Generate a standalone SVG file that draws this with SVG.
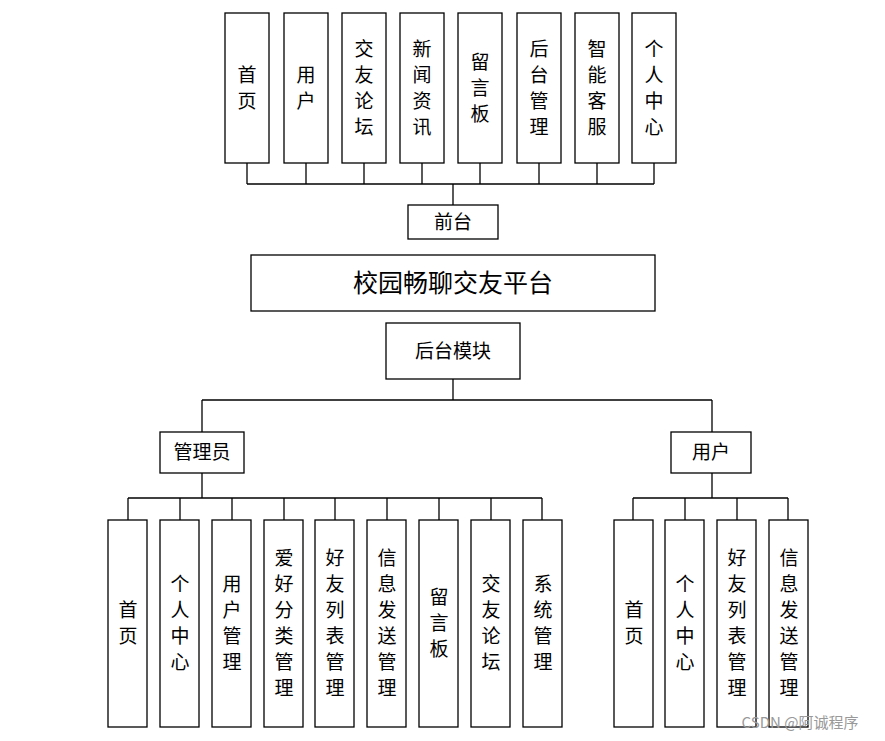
<svg xmlns="http://www.w3.org/2000/svg" width="885" height="741" viewBox="0 0 885 741">
<style>
rect{fill:#fff;stroke:#000;stroke-width:1.3}
text{font-family:"Noto Sans CJK SC",sans-serif;font-size:19px;fill:#000;text-anchor:middle}
.c line,.c polyline{stroke:#000;stroke-width:1.3;fill:none}
</style>
<rect x="0" y="0" width="885" height="741" style="stroke:none"/>
<g class="c">
<line x1="247" y1="184" x2="654" y2="184"/>
<line x1="247" y1="163" x2="247" y2="184"/><line x1="306" y1="163" x2="306" y2="184"/><line x1="364" y1="163" x2="364" y2="184"/><line x1="422" y1="163" x2="422" y2="184"/><line x1="480" y1="163" x2="480" y2="184"/><line x1="539" y1="163" x2="539" y2="184"/><line x1="597" y1="163" x2="597" y2="184"/><line x1="654" y1="163" x2="654" y2="184"/>
<line x1="453" y1="184" x2="453" y2="205"/>
<line x1="453" y1="379" x2="453" y2="400"/>
<line x1="202" y1="400" x2="712" y2="400"/>
<line x1="202" y1="400" x2="202" y2="432"/><line x1="712" y1="400" x2="712" y2="432"/>
<line x1="202" y1="473" x2="202" y2="498"/><line x1="712" y1="473" x2="712" y2="498"/>
<line x1="128" y1="498" x2="542" y2="498"/>
<line x1="128" y1="498" x2="128" y2="520"/><line x1="180" y1="498" x2="180" y2="520"/><line x1="232" y1="498" x2="232" y2="520"/><line x1="284" y1="498" x2="284" y2="520"/><line x1="335" y1="498" x2="335" y2="520"/><line x1="387" y1="498" x2="387" y2="520"/><line x1="439" y1="498" x2="439" y2="520"/><line x1="491" y1="498" x2="491" y2="520"/><line x1="542" y1="498" x2="542" y2="520"/>
<line x1="633" y1="498" x2="788" y2="498"/>
<line x1="633" y1="498" x2="633" y2="520"/><line x1="685" y1="498" x2="685" y2="520"/><line x1="737" y1="498" x2="737" y2="520"/><line x1="788" y1="498" x2="788" y2="520"/>
</g>
<g id="t1"><rect x="225" y="13" width="44" height="150"/><text x="247" y="82">首</text><text x="247" y="108">页</text></g>
<g id="t2"><rect x="284" y="13" width="44" height="150"/><text x="306" y="82">用</text><text x="306" y="108">户</text></g>
<g id="t3"><rect x="342" y="13" width="44" height="150"/><text x="364" y="56">交</text><text x="364" y="82">友</text><text x="364" y="108">论</text><text x="364" y="134">坛</text></g>
<g id="t4"><rect x="400" y="13" width="44" height="150"/><text x="422" y="56">新</text><text x="422" y="82">闻</text><text x="422" y="108">资</text><text x="422" y="134">讯</text></g>
<g id="t5"><rect x="458" y="13" width="44" height="150"/><text x="480" y="69">留</text><text x="480" y="95">言</text><text x="480" y="121">板</text></g>
<g id="t6"><rect x="517" y="13" width="44" height="150"/><text x="539" y="56">后</text><text x="539" y="82">台</text><text x="539" y="108">管</text><text x="539" y="134">理</text></g>
<g id="t7"><rect x="575" y="13" width="44" height="150"/><text x="597" y="56">智</text><text x="597" y="82">能</text><text x="597" y="108">客</text><text x="597" y="134">服</text></g>
<g id="t8"><rect x="632" y="13" width="44" height="150"/><text x="654" y="56">个</text><text x="654" y="82">人</text><text x="654" y="108">中</text><text x="654" y="134">心</text></g>
<g id="qiantai"><rect x="408" y="205" width="90" height="34"/><text x="453" y="229">前台</text></g>
<g id="main"><rect x="251" y="255" width="404" height="56"/><text x="453" y="292" style="font-size:25px">校园畅聊交友平台</text></g>
<g id="houtai"><rect x="386" y="323" width="134" height="56"/><text x="453" y="358">后台模块</text></g>
<g id="admin"><rect x="160" y="432" width="84" height="41"/><text x="202" y="459">管理员</text></g>
<g id="user"><rect x="671" y="432" width="80" height="41"/><text x="711" y="459">用户</text></g>
<g id="a1"><rect x="108" y="520" width="39" height="207"/><text x="128" y="617">首</text><text x="128" y="643">页</text></g>
<g id="a2"><rect x="160" y="520" width="39" height="207"/><text x="180" y="591">个</text><text x="180" y="617">人</text><text x="180" y="643">中</text><text x="180" y="669">心</text></g>
<g id="a3"><rect x="212" y="520" width="39" height="207"/><text x="232" y="591">用</text><text x="232" y="617">户</text><text x="232" y="643">管</text><text x="232" y="669">理</text></g>
<g id="a4"><rect x="264" y="520" width="39" height="207"/><text x="284" y="565">爱</text><text x="284" y="591">好</text><text x="284" y="617">分</text><text x="284" y="643">类</text><text x="284" y="669">管</text><text x="284" y="695">理</text></g>
<g id="a5"><rect x="315" y="520" width="39" height="207"/><text x="335" y="565">好</text><text x="335" y="591">友</text><text x="335" y="617">列</text><text x="335" y="643">表</text><text x="335" y="669">管</text><text x="335" y="695">理</text></g>
<g id="a6"><rect x="367" y="520" width="39" height="207"/><text x="387" y="565">信</text><text x="387" y="591">息</text><text x="387" y="617">发</text><text x="387" y="643">送</text><text x="387" y="669">管</text><text x="387" y="695">理</text></g>
<g id="a7"><rect x="419" y="520" width="39" height="207"/><text x="439" y="604">留</text><text x="439" y="630">言</text><text x="439" y="656">板</text></g>
<g id="a8"><rect x="471" y="520" width="39" height="207"/><text x="491" y="591">交</text><text x="491" y="617">友</text><text x="491" y="643">论</text><text x="491" y="669">坛</text></g>
<g id="a9"><rect x="523" y="520" width="39" height="207"/><text x="543" y="591">系</text><text x="543" y="617">统</text><text x="543" y="643">管</text><text x="543" y="669">理</text></g>
<g id="u1"><rect x="614" y="520" width="39" height="207"/><text x="634" y="617">首</text><text x="634" y="643">页</text></g>
<g id="u2"><rect x="665" y="520" width="39" height="207"/><text x="685" y="591">个</text><text x="685" y="617">人</text><text x="685" y="643">中</text><text x="685" y="669">心</text></g>
<g id="u3"><rect x="717" y="520" width="39" height="207"/><text x="737" y="565">好</text><text x="737" y="591">友</text><text x="737" y="617">列</text><text x="737" y="643">表</text><text x="737" y="669">管</text><text x="737" y="695">理</text></g>
<g id="u4"><rect x="769" y="520" width="39" height="207"/><text x="789" y="565">信</text><text x="789" y="591">息</text><text x="789" y="617">发</text><text x="789" y="643">送</text><text x="789" y="669">管</text><text x="789" y="695">理</text></g>
<text x="800" y="728" style="font-size:15px;fill:#999">CSDN @阿诚程序</text>
</svg>
